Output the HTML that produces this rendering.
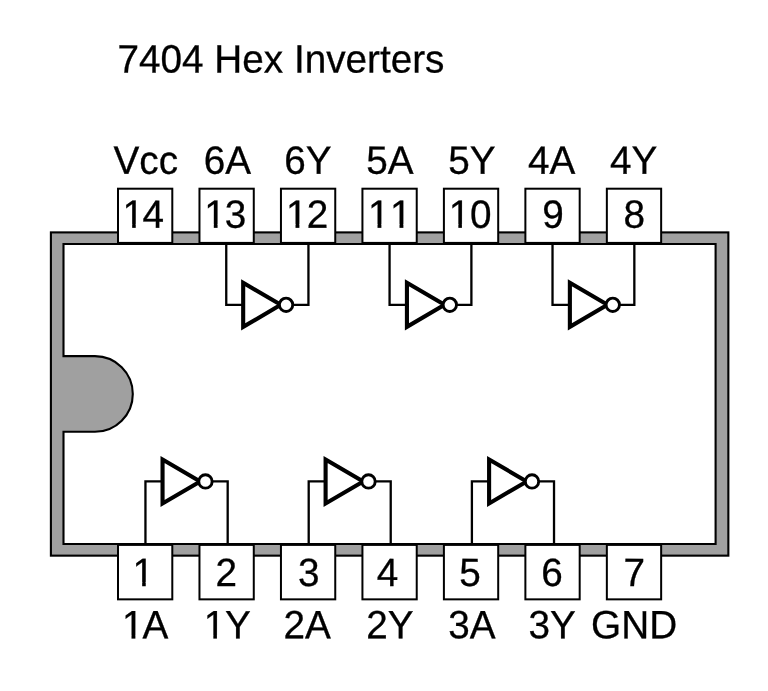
<!DOCTYPE html>
<html lang="en"><head><meta charset="utf-8"><title>7404 Hex Inverters</title>
<style>
html,body{margin:0;padding:0;background:#fff;}
body{width:768px;height:691px;overflow:hidden;}
svg{display:block;will-change:transform;}
text{font-family:"Liberation Sans",sans-serif;font-size:38.7px;fill:#000;stroke:#000;stroke-width:0.3px;}
</style></head><body>
<svg width="768" height="691" viewBox="0 0 768 691">
<rect width="768" height="691" fill="#fff"/>
<rect x="50.9" y="232.4" width="677.45" height="323.25" fill="#a0a0a0" stroke="#000" stroke-width="2.1"/>
<path d="M63.5 243.95 H715.6 V544 H63.5 V431.8 H94.95 A37.85 37.85 0 0 0 94.95 356.1 H63.5 Z" fill="#fff" stroke="#000" stroke-width="2.1"/>
<path d="M226.25 244 V304.85 H243.18 M292.77 304.85 H308.44 V244" fill="none" stroke="#000" stroke-width="2.3"/>
<path d="M243.18 282.85 L280.78 304.85 L243.18 326.85 Z" fill="#fff" stroke="#000" stroke-width="4.1" stroke-linejoin="miter"/>
<circle cx="286.07" cy="304.85" r="6.7" fill="#fff" stroke="#000" stroke-width="2.9"/>
<path d="M389.57 244 V304.85 H406.93 M456.52 304.85 H471.39 V244" fill="none" stroke="#000" stroke-width="2.3"/>
<path d="M406.93 282.85 L444.53 304.85 L406.93 326.85 Z" fill="#fff" stroke="#000" stroke-width="4.1" stroke-linejoin="miter"/>
<circle cx="449.82" cy="304.85" r="6.7" fill="#fff" stroke="#000" stroke-width="2.9"/>
<path d="M552.52 244 V304.85 H569.87 M619.48 304.85 H634.34 V244" fill="none" stroke="#000" stroke-width="2.3"/>
<path d="M569.87 282.85 L607.47 304.85 L569.87 326.85 Z" fill="#fff" stroke="#000" stroke-width="4.1" stroke-linejoin="miter"/>
<circle cx="612.77" cy="304.85" r="6.7" fill="#fff" stroke="#000" stroke-width="2.9"/>
<path d="M145.45 544 V481.45 H162.55 M212.15 481.45 H227.68 V544" fill="none" stroke="#000" stroke-width="2.3"/>
<path d="M162.55 459.45 L200.15 481.45 L162.55 503.45 Z" fill="#fff" stroke="#000" stroke-width="4.1" stroke-linejoin="miter"/>
<circle cx="205.45" cy="481.45" r="6.7" fill="#fff" stroke="#000" stroke-width="2.9"/>
<path d="M308.7 544 V481.45 H325.6 M375.2 481.45 H390.72 V544" fill="none" stroke="#000" stroke-width="2.3"/>
<path d="M325.6 459.45 L363.2 481.45 L325.6 503.45 Z" fill="#fff" stroke="#000" stroke-width="4.1" stroke-linejoin="miter"/>
<circle cx="368.5" cy="481.45" r="6.7" fill="#fff" stroke="#000" stroke-width="2.9"/>
<path d="M471.9 544 V481.45 H489.1 M538.7 481.45 H554.02 V544" fill="none" stroke="#000" stroke-width="2.3"/>
<path d="M489.1 459.45 L526.7 481.45 L489.1 503.45 Z" fill="#fff" stroke="#000" stroke-width="4.1" stroke-linejoin="miter"/>
<circle cx="532" cy="481.45" r="6.7" fill="#fff" stroke="#000" stroke-width="2.9"/>
<rect x="118" y="188.7" width="54.3" height="54.2" fill="#fff" stroke="#000" stroke-width="2"/>
<rect x="118" y="544.9" width="54.3" height="54.45" fill="#fff" stroke="#000" stroke-width="2"/>
<rect x="199.47" y="188.7" width="54.3" height="54.2" fill="#fff" stroke="#000" stroke-width="2"/>
<rect x="199.47" y="544.9" width="54.3" height="54.45" fill="#fff" stroke="#000" stroke-width="2"/>
<rect x="280.95" y="188.7" width="54.3" height="54.2" fill="#fff" stroke="#000" stroke-width="2"/>
<rect x="280.95" y="544.9" width="54.3" height="54.45" fill="#fff" stroke="#000" stroke-width="2"/>
<rect x="362.43" y="188.7" width="54.3" height="54.2" fill="#fff" stroke="#000" stroke-width="2"/>
<rect x="362.43" y="544.9" width="54.3" height="54.45" fill="#fff" stroke="#000" stroke-width="2"/>
<rect x="443.9" y="188.7" width="54.3" height="54.2" fill="#fff" stroke="#000" stroke-width="2"/>
<rect x="443.9" y="544.9" width="54.3" height="54.45" fill="#fff" stroke="#000" stroke-width="2"/>
<rect x="525.38" y="188.7" width="54.3" height="54.2" fill="#fff" stroke="#000" stroke-width="2"/>
<rect x="525.38" y="544.9" width="54.3" height="54.45" fill="#fff" stroke="#000" stroke-width="2"/>
<rect x="606.85" y="188.7" width="54.3" height="54.2" fill="#fff" stroke="#000" stroke-width="2"/>
<rect x="606.85" y="544.9" width="54.3" height="54.45" fill="#fff" stroke="#000" stroke-width="2"/>
<text x="117.55" y="0" transform="translate(0 72.5) rotate(0.03 281.05 0) scale(1 1.02)">7404 Hex Inverters</text>
<text x="113.5" y="0" transform="translate(0 173.7) rotate(0.03 145.75 0) scale(1 1.02)">Vcc</text>
<text x="203.7" y="0" transform="translate(0 173.7) rotate(0.03 225.2 0) scale(1 1.02)">6A</text>
<text x="284.2" y="0" transform="translate(0 173.7) rotate(0.03 305.7 0) scale(1 1.02)">6Y</text>
<text x="366.15" y="0" transform="translate(0 173.7) rotate(0.03 387.65 0) scale(1 1.02)">5A</text>
<text x="448.25" y="0" transform="translate(0 173.7) rotate(0.03 469.75 0) scale(1 1.02)">5Y</text>
<text x="528.05" y="0" transform="translate(0 173.7) rotate(0.03 549.55 0) scale(1 1.02)">4A</text>
<text x="610.05" y="0" transform="translate(0 173.7) rotate(0.03 631.55 0) scale(1 1.02)">4Y</text>
<text x="122.5 142.5" y="0" transform="translate(0 227.85) rotate(0.03 144 0) scale(1 1.02)">14</text>
<text x="204.25 224.75" y="0" transform="translate(0 227.85) rotate(0.03 225.75 0) scale(1 1.02)">13</text>
<text x="286 306.75" y="0" transform="translate(0 227.85) rotate(0.03 307.5 0) scale(1 1.02)">12</text>
<text x="368 390" y="0" transform="translate(0 227.85) rotate(0.03 389.5 0) scale(1 1.02)">11</text>
<text x="448.75 470" y="0" transform="translate(0 227.85) rotate(0.03 470.25 0) scale(1 1.02)">10</text>
<text x="542.25" y="0" transform="translate(0 227.85) rotate(0.03 553 0) scale(1 1.02)">9</text>
<text x="623.5" y="0" transform="translate(0 227.85) rotate(0.03 634.25 0) scale(1 1.02)">8</text>
<text x="132.5" y="0" transform="translate(0 585.95) rotate(0.03 143.25 0) scale(1 1.02)">1</text>
<text x="215.47" y="0" transform="translate(0 585.95) rotate(0.03 226.22 0) scale(1 1.02)">2</text>
<text x="298.09" y="0" transform="translate(0 585.95) rotate(0.03 308.84 0) scale(1 1.02)">3</text>
<text x="376.84" y="0" transform="translate(0 585.95) rotate(0.03 387.59 0) scale(1 1.02)">4</text>
<text x="459.34" y="0" transform="translate(0 585.95) rotate(0.03 470.09 0) scale(1 1.02)">5</text>
<text x="541.28" y="0" transform="translate(0 585.95) rotate(0.03 552.03 0) scale(1 1.02)">6</text>
<text x="623.56" y="0" transform="translate(0 585.95) rotate(0.03 634.31 0) scale(1 1.02)">7</text>
<text x="122 142.5" y="0" transform="translate(0 638.3) rotate(0.03 143.5 0) scale(1 1.02)">1A</text>
<text x="203.75 225" y="0" transform="translate(0 638.3) rotate(0.03 225.25 0) scale(1 1.02)">1Y</text>
<text x="283.55" y="0" transform="translate(0 638.3) rotate(0.03 305.05 0) scale(1 1.02)">2A</text>
<text x="366.35" y="0" transform="translate(0 638.3) rotate(0.03 387.85 0) scale(1 1.02)">2Y</text>
<text x="448.3" y="0" transform="translate(0 638.3) rotate(0.03 469.8 0) scale(1 1.02)">3A</text>
<text x="528.6" y="0" transform="translate(0 638.3) rotate(0.03 550.1 0) scale(1 1.02)">3Y</text>
<text x="591.1" y="0" transform="translate(0 638.3) rotate(0.03 634.1 0) scale(1 1.02)">GND</text>
<path d="M125 224H132.17V229H125zM135.74 224H143V229H135.74z" fill="#fff"/>
<path d="M207 224H213.8V229H207zM217.57 224H225V229H217.57z" fill="#fff"/>
<path d="M288 224H295.51V229H288zM299.39 224H306V229H299.39z" fill="#fff"/>
<path d="M370 224H377.51V229H370zM381.39 224H388V229H381.39z" fill="#fff"/>
<path d="M392 224H399.51V229H392zM403.39 224H410V229H403.39z" fill="#fff"/>
<path d="M451 224H458.34V229H451zM461.91 224H469V229H461.91z" fill="#fff"/>
<path d="M135 582H142.17V588H135zM145.74 582H153V588H145.74z" fill="#fff"/>
<path d="M124 635H131.51V640H124zM135.39 635H142V640H135.39z" fill="#fff"/>
<path d="M206 635H213.34V640H206zM216.91 635H224V640H216.91z" fill="#fff"/>
</svg>
</body></html>
